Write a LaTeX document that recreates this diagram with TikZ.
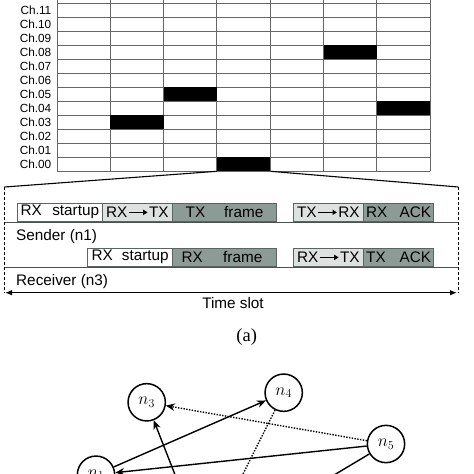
\documentclass[tikz,border=0pt]{standalone}
\usepackage{fontspec}
\setmainfont{Liberation Sans}
\newfontfamily\seriffont{Liberation Serif}
\usetikzlibrary{arrows.meta}
\definecolor{gridgray}{HTML}{666666}
\definecolor{darkseg}{HTML}{8D9B97}
\definecolor{lightseg}{HTML}{DDE1DF}
\definecolor{segline}{HTML}{5A6562}
\definecolor{baseline}{HTML}{4A5250}
\newcommand\arr{\tikz[baseline=-0.33em]\draw[-{Triangle[length=4.5pt,width=5pt]},line width=1.4pt] (0pt,0pt) -- (19pt,0pt);}
\newcommand\seg[7]{\node[segbox, fill=#5, minimum width={#3-#2}, inner xsep=#6pt] (#1) at (#2,#4) {\hbox to \dimexpr #3pt-#2pt-#6pt-#6pt\relax{#7}};}
\newcommand\blk[3]{\node[blackcell] (#1) at ({57+53.286*#2},{171.3-14*#3}) {};}
\begin{document}
\begin{tikzpicture}[x=1pt,y=-1pt,
  gridline/.style={draw=gridgray,line width=1pt},
  blackcell/.style={fill=black,minimum width=53.286pt,minimum height=14pt,inner sep=0pt,anchor=south west},
  chlabel/.style={anchor=base east,inner sep=0pt,font=\fontsize{11.8}{12}\selectfont},
  segbox/.style={draw=segline,line width=0.7pt,minimum height=18.4pt,inner ysep=0pt,anchor=south west,font=\fontsize{15.3}{15}\selectfont},
  tlabel/.style={anchor=base west,inner sep=0pt,font=\fontsize{15.3}{15}\selectfont},
  axisline/.style={draw=baseline,line width=1.4pt},
  gnode/.style={circle,draw,line width=1.5pt,minimum size=37.3pt,inner sep=0pt,font=\fontsize{18}{18}\selectfont},
  edge/.style={line width=1.4pt,-{Stealth[length=9pt,width=7.5pt]}},
  dotedge/.style={line width=1.4pt,dash pattern=on 1.4pt off 1.4pt},
]
\useasboundingbox (0,0) rectangle (474,474);
\begin{scope}
\clip (0,0) rectangle (474,474);
% channel grid
\foreach \j in {0,...,13} \draw[gridline] (57,{171.3-14*\j}) -- (430,{171.3-14*\j});
\foreach \k in {0,...,7} \draw[gridline] ({57+53.286*\k},171.3) -- ({57+53.286*\k},-20);
\foreach \i/\t in {0/00,1/01,2/02,3/03,4/04,5/05,6/06,7/07,8/08,9/09,10/10,11/11}
  \node[chlabel] (ch\t) at (51.5,{171.3-14*\i-2.8}) {Ch.\t};
\blk{b03}{1}{3}
\blk{b05}{2}{5}
\blk{b00}{3}{0}
\blk{b08}{5}{8}
\blk{b04}{6}{4}
% zoom lines and dashed frame
\coordinate (dl) at (4.5,187);
\coordinate (dr) at (458.3,187);
\coordinate (dlb) at (4.5,292.5);
\coordinate (drb) at (458.3,292.5);
\draw[line width=1.1pt] (b00.south west) -- (dl);
\draw[line width=1.1pt] (b00.south east) -- (dr);
\draw[line width=1.2pt,dash pattern=on 3pt off 2pt] (dl) -- (dlb);
\draw[line width=1.2pt,dash pattern=on 3pt off 2pt] (dr) -- (drb);
% sender
\coordinate (sl) at (4.5,222.3);
\coordinate (sr) at (458.3,222.3);
\draw[axisline] (sl) -- (sr);
\seg{s1}{17.3}{101.7}{221.7}{white}{3}{RX\hfill startup}
\seg{s2}{101.7}{172.3}{221.7}{lightseg}{4}{RX\hfill\arr\hfill TX}
\seg{s3}{172.3}{276}{221.7}{darkseg}{13}{TX\hfill frame}
\seg{s4}{292.7}{363.3}{221.7}{lightseg}{4}{TX\hfill\arr\hfill RX}
\seg{s5}{363.3}{433.3}{221.7}{darkseg}{2.5}{RX\hfill ACK}
\node[tlabel] (snd) at (16,240) {Sender (n1)};
% receiver
\coordinate (rl) at (4.5,267.3);
\coordinate (rr) at (458.3,267.3);
\draw[axisline] (rl) -- (rr);
\seg{r1}{87.3}{172.3}{266.7}{white}{4}{RX\hfill startup}
\seg{r2}{172.3}{276}{266.7}{darkseg}{9}{RX\hfill frame\hspace{5pt}}
\seg{r3}{292.7}{363.3}{266.7}{lightseg}{4}{RX\hfill\arr\hfill TX}
\seg{r4}{363.3}{433.3}{266.7}{darkseg}{2.5}{TX\hfill ACK}
\node[tlabel] (rcv) at (16,285) {Receiver (n3)};
% time slot
\coordinate (tl) at (5,292.7);
\coordinate (tr) at (457,292.7);
\draw[line width=1.2pt,{Latex[length=7pt,width=5.5pt]}-{Latex[length=7pt,width=5.5pt]}] (tl) -- (tr);
\node[anchor=base,inner sep=0pt,font=\fontsize{15.3}{15}\selectfont] (tslot) at (233,308.3) {Time slot};
% caption
\node[anchor=base,inner sep=0pt,font=\seriffont\fontsize{18.5}{18}\selectfont] (cap) at (246.7,341) {(a)};
% graph
\node[gnode] (n3) at (146.7,402.3) {$n_3$};
\node[gnode] (n4) at (283.7,392.7) {$n_4$};
\node[gnode] (n5) at (386,444) {$n_5$};
\node[gnode] (n1) at (96,474.7) {$n_1$};
\coordinate (e3) at (181,490);
\coordinate (e4) at (235,490);
\coordinate (e5) at (309,490);
\draw[edge] (n1) -- (n4);
\draw[edge] (n5) -- (n1);
\draw[edge] (e3) -- (n3);
\draw[edge,dotedge] (n5) -- (n3);
\draw[dotedge] (n4) -- (e4);
\draw[line width=1.4pt] (n5) -- (e5);
\end{scope}
\end{tikzpicture}
\end{document}
